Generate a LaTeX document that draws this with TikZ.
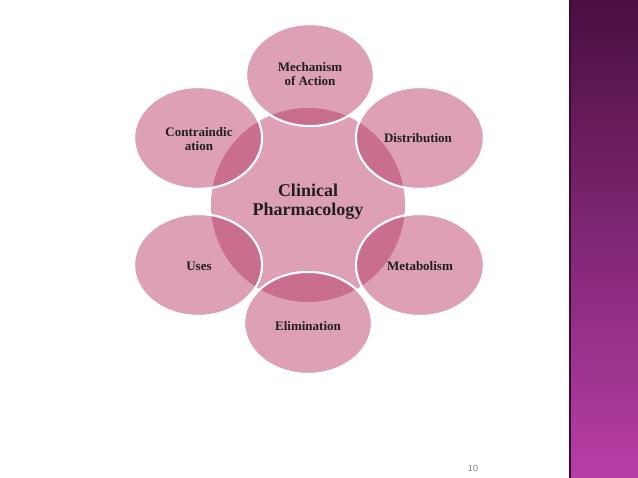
\documentclass[tikz,border=0pt]{standalone}
\usepackage{fontspec}
\setmainfont{Liberation Serif}
\newfontfamily\sansf{Liberation Sans}
\definecolor{petal}{HTML}{DDA0B5}
\definecolor{overlap}{HTML}{C96E8F}
\definecolor{bandtop}{HTML}{4A0F40}
\definecolor{bandbot}{HTML}{B83EA8}
\definecolor{txt}{HTML}{202020}
\begin{document}
\begin{tikzpicture}[x=1pt,y=-1pt,
  lbl/.style={font=\bfseries\fontsize{13}{14}\selectfont,text=txt,align=center},
  petalshape/.style={fill=petal,draw=white,line width=2pt}]
\useasboundingbox (0,0) rectangle (638,478);
\fill[white] (0,0) rectangle (638,478);
\shade[top color=bandtop,bottom color=bandbot] (569,0) rectangle (638,478);
\fill[bandtop!80!black] (569,0) rectangle (571,478);
\fill[petal] (308,205) circle (97);
\foreach \n/\cx/\cy in {m/310/75,d/420/138,me/420/265,e/308/323,u/198/265,c/198/138}{
  \path[petalshape] (\cx,\cy) ellipse [x radius=64,y radius=51];
  \begin{scope}
    \clip (308,205) circle (97);
    \fill[overlap] (\cx,\cy) ellipse [x radius=64,y radius=51];
  \end{scope}
  \draw[white,line width=2pt] (\cx,\cy) ellipse [x radius=64,y radius=51];
}
\node[lbl,font=\bfseries\fontsize{18}{19}\selectfont] (center) at (308,202) {Clinical\\Pharmacology};
\node[lbl] (mech) at (310,74) {Mechanism\\of Action};
\node[lbl] (dist) at (418,138) {Distribution};
\node[lbl] (meta) at (420,266) {Metabolism};
\node[lbl] (elim) at (308,326) {Elimination};
\node[lbl] (uses) at (199,266) {Uses};
\node[lbl] (contra) at (199,139) {Contraindic\\ation};
\node[font=\sansf\fontsize{9}{10}\selectfont,text=gray] (pg) at (473,468) {10};
\end{tikzpicture}
\end{document}
